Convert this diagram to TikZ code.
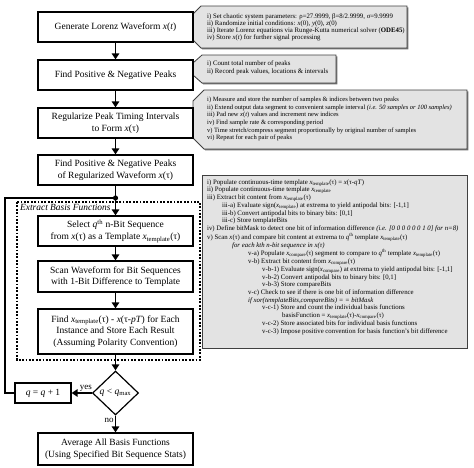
\documentclass[tikz,border=0pt]{standalone}
\usepackage{fontspec}
\setmainfont{Liberation Serif}
\usetikzlibrary{arrows.meta,shapes.geometric,shadows}
\newcommand\xtp{\textit{x}\textsubscript{template}}
\newcommand\xcp{\textit{x}\textsubscript{compare}}
\begin{document}
\begin{tikzpicture}[x=1pt,y=-1pt,
  mainbox/.style={draw=black, line width=1.2pt, fill=white, minimum width=155pt, inner sep=1pt, align=center, font=\fontsize{9.5}{11.6}\selectfont},
  smallbox/.style={draw=black, line width=1.2pt, fill=white, inner sep=0pt, font=\fontsize{9.5}{11.6}\selectfont},
  flowarrow/.style={line width=1.6pt, -{Triangle[length=6pt,width=7.5pt]}},
  flowline/.style={line width=1.6pt},
  callout/.style={draw=black!75, line width=0.8pt, fill=black!11, drop shadow={shadow xshift=1.3pt, shadow yshift=-1.3pt, fill=black!70, opacity=0.8}},
  notetext/.style={anchor=west, align=left, inner sep=0pt},
  lbl/.style={inner sep=1pt, font=\fontsize{9}{11}\selectfont}
]
\useasboundingbox (0,0) rectangle (474,467);

% callouts
\path[callout] (201,6) -- (407,6) -- (407,48) -- (201,48) -- (193,40) -- (193,14) -- cycle;
\path[callout] (202,55) -- (336,55) -- (336,83) -- (202,83) -- (193,75) -- (193,63) -- cycle;
\path[callout] (204,90) -- (467,90) -- (467,149) -- (204,149) -- (193,138) -- (193,101) -- cycle;
\path[callout] (202,175) rectangle (467,348);

\node[notetext, font=\fontsize{6.8}{7}\selectfont] (n1) at (207,27) {%
i) Set chaotic system parameters: ρ=27.9999, β=8/2.9999, σ=9.9999\\
ii) Randomize initial conditions: \textit{x}(0), \textit{y}(0), \textit{z}(0)\\
iii) Iterate Lorenz equations via Runge-Kutta numerical solver (\textbf{ODE45})\\
iv) Store \textit{x}(\textit{t}) for further signal processing};

\node[notetext, font=\fontsize{6.8}{8}\selectfont] (n2) at (207,68) {%
i) Count total number of peaks\\
ii) Record peak values, locations \& intervals};

\node[notetext, font=\fontsize{6.5}{7.6}\selectfont] (n3) at (207,119) {%
i) Measure and store the number of samples \& indices between two peaks\\
ii) Extend output data segment to convenient sample interval \textit{(i.e. 50 samples or 100 samples)}\\
iii) Pad new \textit{x}(\textit{t}) values and increment new indices\\
iv) Find sample rate \& corresponding period\\
v) Time stretch/compress segment proportionally by original number of samples\\
vi) Repeat for each pair of peaks};

\node[notetext, font=\fontsize{6.8}{7.74}\selectfont] (n4) at (207,257) {%
i) Populate continuous-time template \xtp(τ) = \textit{x}(τ-\textit{qT})\\
ii) Populate continuous-time template \xtp\\
iii) Extract bit content from \xtp(τ)\\
\hspace*{15pt}iii-a) Evaluate sign(\xtp) at extrema to yield antipodal bits: [-1,1]\\
\hspace*{15pt}iii-b) Convert antipodal bits to binary bits: [0,1]\\
\hspace*{15pt}iii-c) Store templateBits\\
iv) Define bitMask to detect one bit of information difference \textit{(i.e. [0 0 0 0 0 0 1 0] for n=8)}\\
v) Scan \textit{x}(τ) and compare bit content at extrema to \textit{q}\textsuperscript{th} template \xtp(τ)\\
\hspace*{25pt}\textit{for each kth n-bit sequence in x(τ)}\\
\hspace*{41pt}v-a) Populate \xcp(τ) segment to compare to \textit{q}\textsuperscript{th} template \xtp(τ)\\
\hspace*{41pt}v-b) Extract bit content from \xcp(τ)\\
\hspace*{55pt}v-b-1) Evaluate sign(\xcp) at extrema to yield antipodal bits: [-1,1]\\
\hspace*{55pt}v-b-2) Convert antipodal bits to binary bits: [0,1]\\
\hspace*{55pt}v-b-3) Store compareBits\\
\hspace*{41pt}v-c) Check to see if there is one bit of information difference\\
\hspace*{41pt}\textit{if xor(templateBits,compareBits) = = bitMask}\\
\hspace*{55pt}v-c-1) Store and count the individual basis functions\\
\hspace*{75pt}basisFunction = \xtp(τ)-\xcp(τ)\\
\hspace*{55pt}v-c-2) Store associated bits for individual basis functions\\
\hspace*{55pt}v-c-3) Impose positive convention for basis function's bit difference};

% dotted group box
\draw[line width=1.6pt, dash pattern=on 1.8pt off 1.6pt] (17,202) rectangle (200,360);
\node[anchor=north west, inner sep=0pt, font=\fontsize{9.4}{11}\selectfont\itshape] (grp) at (20,204) {Extract Basis Functions};

% main boxes
\node[mainbox, minimum height=30pt] (b1) at (115.5,27) {Generate Lorenz Waveform \textit{x}(\textit{t})};
\node[mainbox, minimum height=30pt] (b2) at (115.5,75) {Find Positive \& Negative Peaks};
\node[mainbox, minimum height=30pt] (b3) at (115.5,123) {Regularize Peak Timing Intervals\\to Form \textit{x}(τ)};
\node[mainbox, minimum height=30pt] (b4) at (115.5,170) {Find Positive \& Negative Peaks\\of Regularized Waveform \textit{x}(τ)};
\node[mainbox, minimum height=30pt] (b5) at (115.5,231) {Select \textit{q}\textsuperscript{th} n-Bit Sequence\\from \textit{x}(τ) as a Template \xtp(τ)};
\node[mainbox, minimum height=31pt] (b6) at (115.5,276.5) {Scan Waveform for Bit Sequences\\with 1-Bit Difference to Template};
\node[mainbox, minimum height=45pt] (b7) at (115.5,331.5) {Find \xtp(τ) - \textit{x}(τ-\textit{pT}) for Each\\Instance and Store Each Result\\(Assuming Polarity Convention)};
\node[diamond, draw=black, line width=1.2pt, fill=white, aspect=1, minimum width=46pt, minimum height=44pt, inner sep=0pt, font=\fontsize{9.5}{11.6}\selectfont] (dm) at (115.5,393) {\textit{q} < \textit{q}\textsubscript{max}};
\node[smallbox, minimum width=56pt, minimum height=20pt] (qb) at (43,393) {\textit{q} = \textit{q} + 1};
\node[mainbox, minimum height=32pt] (b8) at (115.5,449) {Average All Basis Functions\\(Using Specified Bit Sequence Stats)};

% connectors
\coordinate (j) at (115.5,198);
\coordinate (lc) at (5,198);
\draw[flowarrow] (b1) -- (b2);
\draw[flowarrow] (b2) -- (b3);
\draw[flowarrow] (b3) -- (b4);
\draw[flowarrow] (b4) -- (b5);
\draw[flowarrow] (b5) -- (b6);
\draw[flowarrow] (b6) -- (b7);
\draw[flowarrow] (b7) -- (dm);
\draw[flowarrow] (dm.west) -- (qb.east) node[lbl, pos=0.3, above] {yes};
\draw[flowarrow] (dm.south) -- (b8.north) node[lbl, pos=0.3, left] {no};
\draw[flowline] (qb.west) -| (lc) -- (j);
\fill (j) circle (2.6pt);
\end{tikzpicture}
\end{document}
